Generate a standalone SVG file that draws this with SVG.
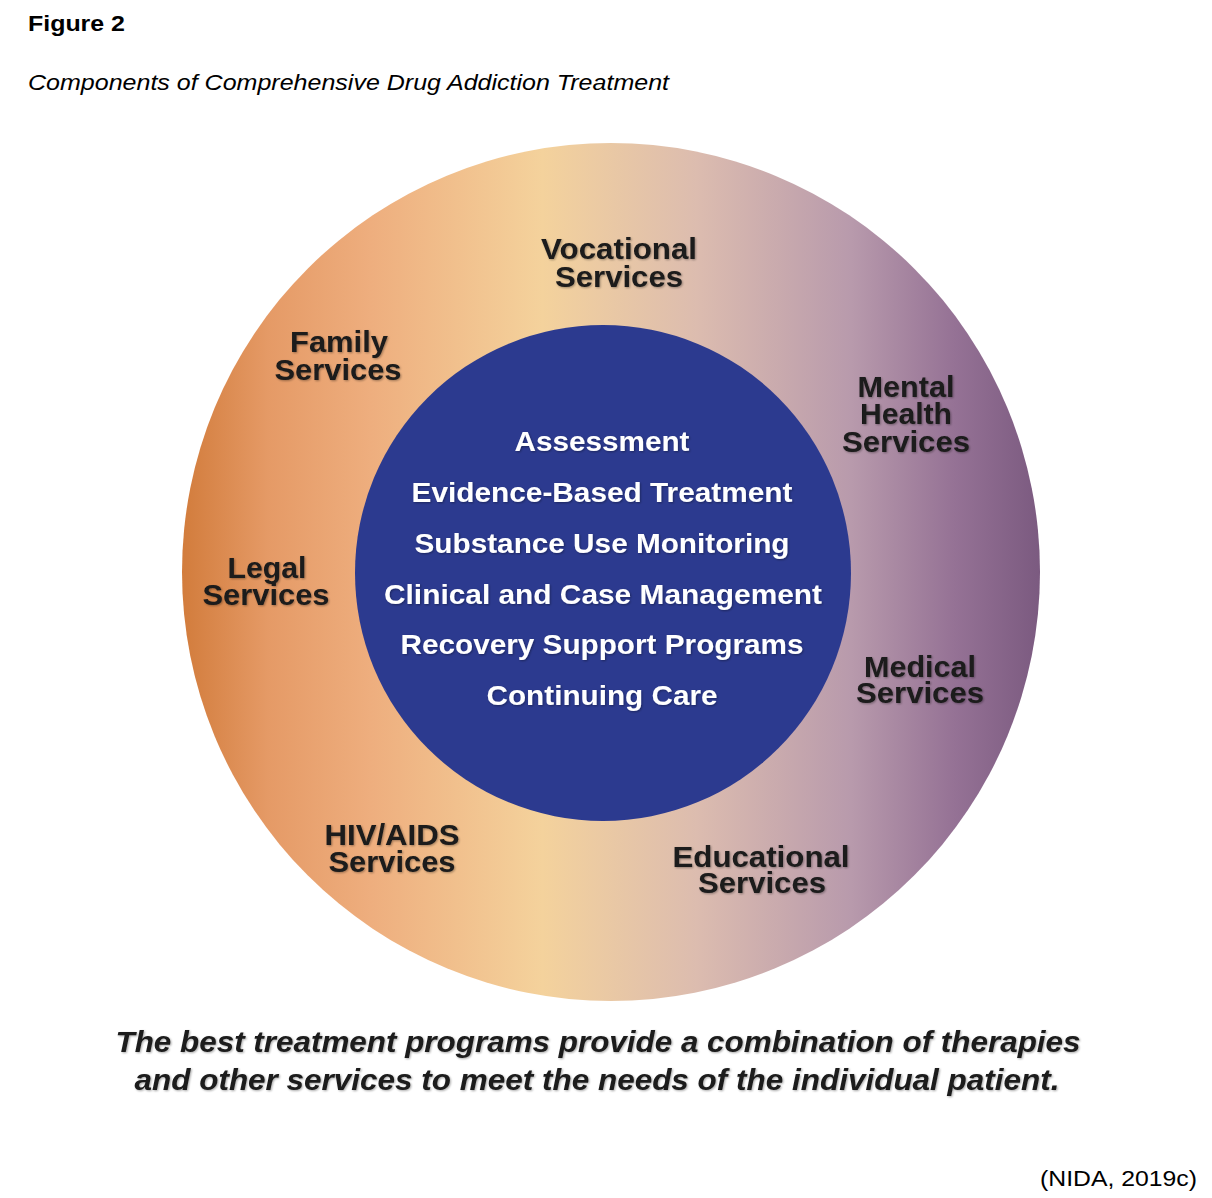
<svg xmlns="http://www.w3.org/2000/svg" width="1212" height="1198" viewBox="0 0 1212 1198">
<defs>
<linearGradient id="ring" x1="182" y1="0" x2="1040" y2="0" gradientUnits="userSpaceOnUse">
<stop offset="0" stop-color="#d27c3c"/>
<stop offset="0.1" stop-color="#e59a66"/>
<stop offset="0.22" stop-color="#eeae7e"/>
<stop offset="0.42" stop-color="#f4d29c"/>
<stop offset="0.6" stop-color="#dcbcaf"/>
<stop offset="0.78" stop-color="#b89aac"/>
<stop offset="0.9" stop-color="#957295"/>
<stop offset="1" stop-color="#7b5a80"/>
</linearGradient>
<filter id="sh" x="-10%" y="-10%" width="120%" height="130%">
<feGaussianBlur in="SourceAlpha" stdDeviation="1"/>
<feOffset dx="1.2" dy="1.2" result="b"/>
<feComponentTransfer><feFuncA type="linear" slope="0.35"/></feComponentTransfer>
<feMerge><feMergeNode/><feMergeNode in="SourceGraphic"/></feMerge>
</filter>
</defs>
<style>
.title{font-family:"Liberation Sans",Arial,sans-serif;font-size:22px;fill:#000}
.ring{font-family:"Liberation Sans",Arial,sans-serif;font-weight:bold;font-size:29px;fill:#1a1a1a;text-anchor:middle}
.core{font-family:"Liberation Sans",Arial,sans-serif;font-weight:bold;font-size:28px;fill:#ffffff;text-anchor:middle}
.cap{font-family:"Liberation Sans",Arial,sans-serif;font-weight:bold;font-style:italic;font-size:29px;fill:#1a1a1a;text-anchor:middle}
</style>
<rect width="1212" height="1198" fill="#ffffff"/>
<text class="title" x="28" y="31" font-weight="bold" font-size="24" textLength="97" lengthAdjust="spacingAndGlyphs">Figure 2</text>
<text class="title" x="28" y="90" font-style="italic" textLength="641" lengthAdjust="spacingAndGlyphs">Components of Comprehensive Drug Addiction Treatment</text>

<g id="outer-ring">
<circle cx="611" cy="572" r="429" fill="url(#ring)"/>
</g>
<g id="core">
<circle cx="603" cy="573" r="248" fill="#2c3a8f"/>
<g filter="url(#sh)">
<text class="core" x="602" y="451" textLength="175" lengthAdjust="spacingAndGlyphs">Assessment</text>
<text class="core" x="602" y="502" textLength="381" lengthAdjust="spacingAndGlyphs">Evidence-Based Treatment</text>
<text class="core" x="602" y="553" textLength="375" lengthAdjust="spacingAndGlyphs">Substance Use Monitoring</text>
<text class="core" x="603" y="604" textLength="438" lengthAdjust="spacingAndGlyphs">Clinical and Case Management</text>
<text class="core" x="602" y="654" textLength="403" lengthAdjust="spacingAndGlyphs">Recovery Support Programs</text>
<text class="core" x="602" y="705" textLength="231" lengthAdjust="spacingAndGlyphs">Continuing Care</text>
</g>
</g>

<g filter="url(#sh)">
<g id="vocational">
<text class="ring" x="619" y="259" textLength="156" lengthAdjust="spacingAndGlyphs">Vocational</text>
<text class="ring" x="619" y="287" textLength="128" lengthAdjust="spacingAndGlyphs">Services</text>
</g>
<g id="family">
<text class="ring" x="339" y="352" textLength="98" lengthAdjust="spacingAndGlyphs">Family</text>
<text class="ring" x="338" y="380" textLength="127" lengthAdjust="spacingAndGlyphs">Services</text>
</g>
<g id="mental-health">
<text class="ring" x="906" y="397" textLength="97" lengthAdjust="spacingAndGlyphs">Mental</text>
<text class="ring" x="906" y="424" textLength="92" lengthAdjust="spacingAndGlyphs">Health</text>
<text class="ring" x="906" y="452" textLength="128" lengthAdjust="spacingAndGlyphs">Services</text>
</g>
<g id="legal">
<text class="ring" x="267" y="578" textLength="79" lengthAdjust="spacingAndGlyphs">Legal</text>
<text class="ring" x="266" y="605" textLength="127" lengthAdjust="spacingAndGlyphs">Services</text>
</g>
<g id="medical">
<text class="ring" x="920" y="677" textLength="112" lengthAdjust="spacingAndGlyphs">Medical</text>
<text class="ring" x="920" y="703" textLength="128" lengthAdjust="spacingAndGlyphs">Services</text>
</g>
<g id="hiv-aids">
<text class="ring" x="392" y="845" textLength="135" lengthAdjust="spacingAndGlyphs">HIV/AIDS</text>
<text class="ring" x="392" y="872" textLength="127" lengthAdjust="spacingAndGlyphs">Services</text>
</g>
<g id="educational">
<text class="ring" x="761" y="867" textLength="177" lengthAdjust="spacingAndGlyphs">Educational</text>
<text class="ring" x="762" y="893" textLength="128" lengthAdjust="spacingAndGlyphs">Services</text>
</g>
</g>

<g id="caption" filter="url(#sh)">
<text class="cap" x="598" y="1052" textLength="965" lengthAdjust="spacingAndGlyphs">The best treatment programs provide a combination of therapies</text>
<text class="cap" x="597" y="1090" textLength="925" lengthAdjust="spacingAndGlyphs">and other services to meet the needs of the individual patient.</text>
</g>
<text class="title" x="1197" y="1186" text-anchor="end" font-size="24" textLength="157" lengthAdjust="spacingAndGlyphs">(NIDA, 2019c)</text>
</svg>
